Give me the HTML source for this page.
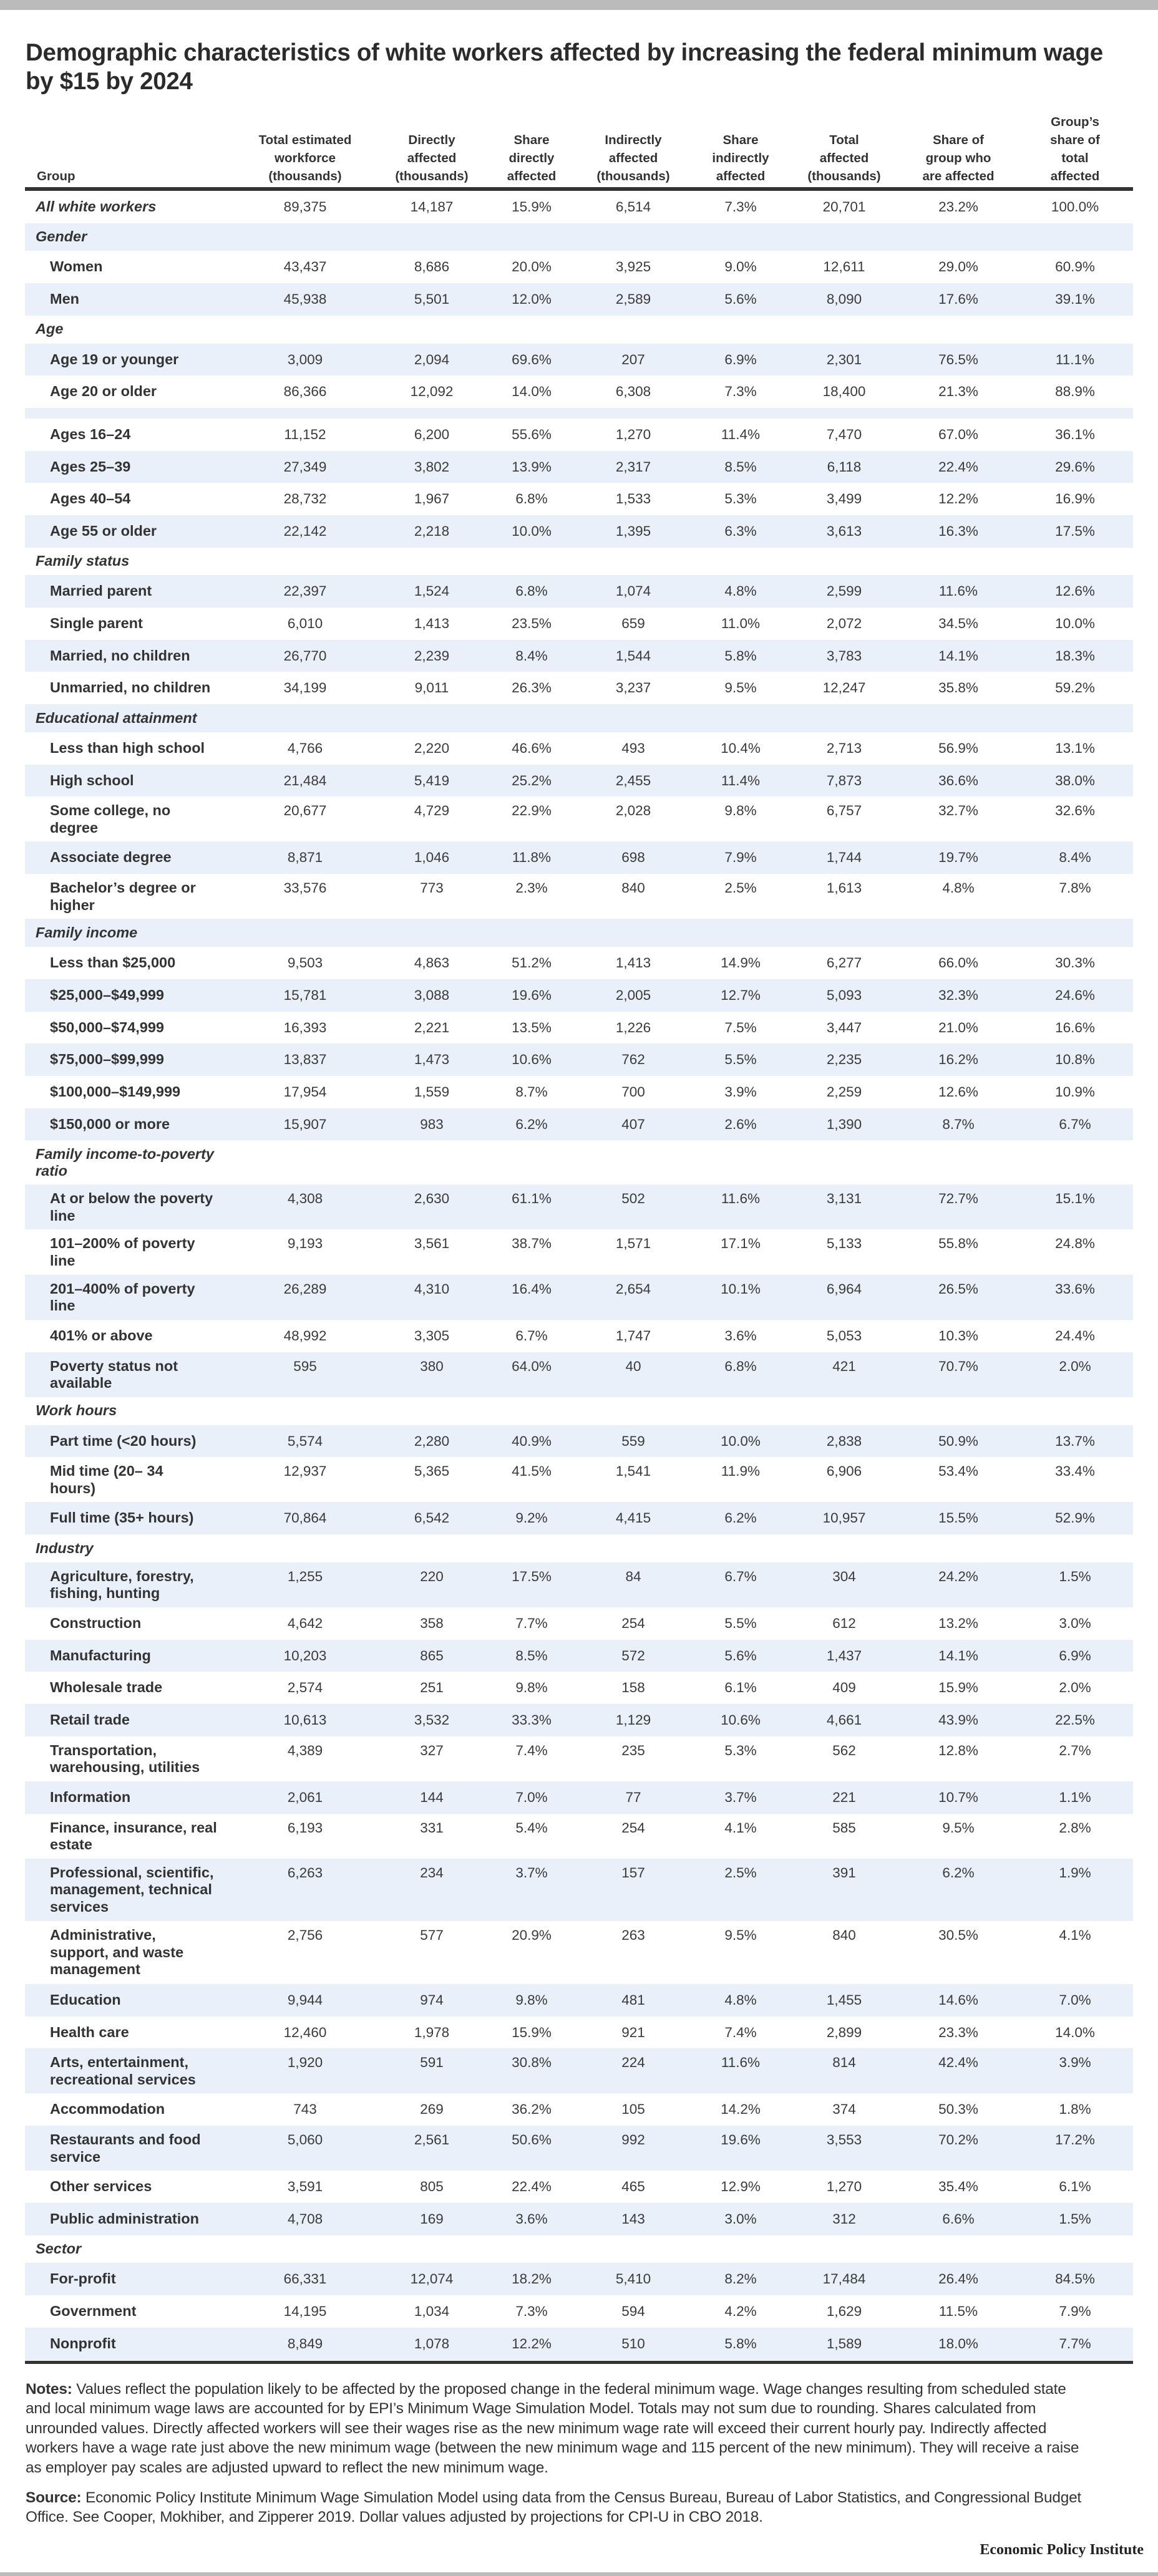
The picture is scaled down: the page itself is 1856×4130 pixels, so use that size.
<!DOCTYPE html>
<html><head><meta charset="utf-8">
<style>
*{margin:0;padding:0;box-sizing:border-box}
body{width:1856px;height:4130px;background:#fff;position:relative;font-family:"Liberation Sans",sans-serif;color:#333;overflow:hidden}
.bar{position:absolute;left:0;width:1856px;background:#bbbbbb}
.title{position:absolute;left:41px;top:62px;font-size:38.5px;font-weight:bold;line-height:46px;color:#2b2b2b;white-space:nowrap;letter-spacing:-0.3px}
.hd{position:absolute;top:177px;height:120px;font-size:20.5px;font-weight:bold;line-height:29px;text-align:center;width:200px;display:flex;flex-direction:column;justify-content:flex-end;color:#333}
.rule{position:absolute;left:40px;width:1776px;background:#333}
#t{position:absolute;left:40px;top:306px;width:1776px}
.r{position:relative;width:1776px;font-size:23.5px;line-height:27.5px}
.r:nth-child(even){background:#e9f0f9}
.l{position:absolute;left:40px;top:12px;font-weight:bold;white-space:nowrap;color:#333}
.r.m .l,.r.m .c{top:9px}
.k{position:absolute;left:17px;top:8.5px;font-weight:bold;font-style:italic;white-space:nowrap}
.a{position:absolute;left:17px;top:12px;font-style:italic;font-weight:bold;white-space:nowrap}
.c{position:absolute;top:12px;width:200px;text-align:center;white-space:nowrap;color:#3a3a3a;font-size:22.5px}
.c1{left:349px}.c2{left:552px}.c3{left:712px}.c4{left:875px}.c5{left:1047px}.c6{left:1213px}.c7{left:1396px}.c8{left:1583px}
.s{height:51.7px}.d{height:72.2px}.tr{height:100.5px}.g{height:44.8px}.g2{height:71px}.sp{height:16.8px}
.notes{position:absolute;left:41px;top:3815px;font-size:24.4px;line-height:31.4px;white-space:nowrap;color:#333;letter-spacing:-0.2px}
.src{top:3989px}
.epi{position:absolute;right:23px;top:4075px;font-family:"Liberation Serif",serif;font-weight:bold;font-size:24px;color:#222;white-space:nowrap}
</style></head><body>
<div class="bar" style="top:0;height:16px"></div>
<div class="title">Demographic characteristics of white workers affected by increasing the federal minimum wage<br>by $15 by 2024</div>

<div class="hd" style="left:40px;width:300px;text-align:left;padding-left:19px">Group</div>
<div class="hd" style="left:389px">Total estimated<br>workforce<br>(thousands)</div>
<div class="hd" style="left:592px">Directly<br>affected<br>(thousands)</div>
<div class="hd" style="left:752px">Share<br>directly<br>affected</div>
<div class="hd" style="left:915px">Indirectly<br>affected<br>(thousands)</div>
<div class="hd" style="left:1087px">Share<br>indirectly<br>affected</div>
<div class="hd" style="left:1253px">Total<br>affected<br>(thousands)</div>
<div class="hd" style="left:1436px">Share of<br>group who<br>are affected</div>
<div class="hd" style="left:1623px">Group’s<br>share of<br>total<br>affected</div>
<div class="rule" style="top:300px;height:6px"></div>

<div id="t">
<div class="r s"><div class="a">All white workers</div><div class="c c1">89,375</div><div class="c c2">14,187</div><div class="c c3">15.9%</div><div class="c c4">6,514</div><div class="c c5">7.3%</div><div class="c c6">20,701</div><div class="c c7">23.2%</div><div class="c c8">100.0%</div></div>
<div class="r g"><div class="k">Gender</div></div>
<div class="r s"><div class="l">Women</div><div class="c c1">43,437</div><div class="c c2">8,686</div><div class="c c3">20.0%</div><div class="c c4">3,925</div><div class="c c5">9.0%</div><div class="c c6">12,611</div><div class="c c7">29.0%</div><div class="c c8">60.9%</div></div>
<div class="r s"><div class="l">Men</div><div class="c c1">45,938</div><div class="c c2">5,501</div><div class="c c3">12.0%</div><div class="c c4">2,589</div><div class="c c5">5.6%</div><div class="c c6">8,090</div><div class="c c7">17.6%</div><div class="c c8">39.1%</div></div>
<div class="r g"><div class="k">Age</div></div>
<div class="r s"><div class="l">Age 19 or younger</div><div class="c c1">3,009</div><div class="c c2">2,094</div><div class="c c3">69.6%</div><div class="c c4">207</div><div class="c c5">6.9%</div><div class="c c6">2,301</div><div class="c c7">76.5%</div><div class="c c8">11.1%</div></div>
<div class="r s"><div class="l">Age 20 or older</div><div class="c c1">86,366</div><div class="c c2">12,092</div><div class="c c3">14.0%</div><div class="c c4">6,308</div><div class="c c5">7.3%</div><div class="c c6">18,400</div><div class="c c7">21.3%</div><div class="c c8">88.9%</div></div>
<div class="r sp"></div>
<div class="r s"><div class="l">Ages 16–24</div><div class="c c1">11,152</div><div class="c c2">6,200</div><div class="c c3">55.6%</div><div class="c c4">1,270</div><div class="c c5">11.4%</div><div class="c c6">7,470</div><div class="c c7">67.0%</div><div class="c c8">36.1%</div></div>
<div class="r s"><div class="l">Ages 25–39</div><div class="c c1">27,349</div><div class="c c2">3,802</div><div class="c c3">13.9%</div><div class="c c4">2,317</div><div class="c c5">8.5%</div><div class="c c6">6,118</div><div class="c c7">22.4%</div><div class="c c8">29.6%</div></div>
<div class="r s"><div class="l">Ages 40–54</div><div class="c c1">28,732</div><div class="c c2">1,967</div><div class="c c3">6.8%</div><div class="c c4">1,533</div><div class="c c5">5.3%</div><div class="c c6">3,499</div><div class="c c7">12.2%</div><div class="c c8">16.9%</div></div>
<div class="r s"><div class="l">Age 55 or older</div><div class="c c1">22,142</div><div class="c c2">2,218</div><div class="c c3">10.0%</div><div class="c c4">1,395</div><div class="c c5">6.3%</div><div class="c c6">3,613</div><div class="c c7">16.3%</div><div class="c c8">17.5%</div></div>
<div class="r g"><div class="k">Family status</div></div>
<div class="r s"><div class="l">Married parent</div><div class="c c1">22,397</div><div class="c c2">1,524</div><div class="c c3">6.8%</div><div class="c c4">1,074</div><div class="c c5">4.8%</div><div class="c c6">2,599</div><div class="c c7">11.6%</div><div class="c c8">12.6%</div></div>
<div class="r s"><div class="l">Single parent</div><div class="c c1">6,010</div><div class="c c2">1,413</div><div class="c c3">23.5%</div><div class="c c4">659</div><div class="c c5">11.0%</div><div class="c c6">2,072</div><div class="c c7">34.5%</div><div class="c c8">10.0%</div></div>
<div class="r s"><div class="l">Married, no children</div><div class="c c1">26,770</div><div class="c c2">2,239</div><div class="c c3">8.4%</div><div class="c c4">1,544</div><div class="c c5">5.8%</div><div class="c c6">3,783</div><div class="c c7">14.1%</div><div class="c c8">18.3%</div></div>
<div class="r s"><div class="l">Unmarried, no children</div><div class="c c1">34,199</div><div class="c c2">9,011</div><div class="c c3">26.3%</div><div class="c c4">3,237</div><div class="c c5">9.5%</div><div class="c c6">12,247</div><div class="c c7">35.8%</div><div class="c c8">59.2%</div></div>
<div class="r g"><div class="k">Educational attainment</div></div>
<div class="r s"><div class="l">Less than high school</div><div class="c c1">4,766</div><div class="c c2">2,220</div><div class="c c3">46.6%</div><div class="c c4">493</div><div class="c c5">10.4%</div><div class="c c6">2,713</div><div class="c c7">56.9%</div><div class="c c8">13.1%</div></div>
<div class="r s"><div class="l">High school</div><div class="c c1">21,484</div><div class="c c2">5,419</div><div class="c c3">25.2%</div><div class="c c4">2,455</div><div class="c c5">11.4%</div><div class="c c6">7,873</div><div class="c c7">36.6%</div><div class="c c8">38.0%</div></div>
<div class="r d m"><div class="l">Some college, no<br>degree</div><div class="c c1">20,677</div><div class="c c2">4,729</div><div class="c c3">22.9%</div><div class="c c4">2,028</div><div class="c c5">9.8%</div><div class="c c6">6,757</div><div class="c c7">32.7%</div><div class="c c8">32.6%</div></div>
<div class="r s"><div class="l">Associate degree</div><div class="c c1">8,871</div><div class="c c2">1,046</div><div class="c c3">11.8%</div><div class="c c4">698</div><div class="c c5">7.9%</div><div class="c c6">1,744</div><div class="c c7">19.7%</div><div class="c c8">8.4%</div></div>
<div class="r d m"><div class="l">Bachelor’s degree or<br>higher</div><div class="c c1">33,576</div><div class="c c2">773</div><div class="c c3">2.3%</div><div class="c c4">840</div><div class="c c5">2.5%</div><div class="c c6">1,613</div><div class="c c7">4.8%</div><div class="c c8">7.8%</div></div>
<div class="r g"><div class="k">Family income</div></div>
<div class="r s"><div class="l">Less than $25,000</div><div class="c c1">9,503</div><div class="c c2">4,863</div><div class="c c3">51.2%</div><div class="c c4">1,413</div><div class="c c5">14.9%</div><div class="c c6">6,277</div><div class="c c7">66.0%</div><div class="c c8">30.3%</div></div>
<div class="r s"><div class="l">$25,000–$49,999</div><div class="c c1">15,781</div><div class="c c2">3,088</div><div class="c c3">19.6%</div><div class="c c4">2,005</div><div class="c c5">12.7%</div><div class="c c6">5,093</div><div class="c c7">32.3%</div><div class="c c8">24.6%</div></div>
<div class="r s"><div class="l">$50,000–$74,999</div><div class="c c1">16,393</div><div class="c c2">2,221</div><div class="c c3">13.5%</div><div class="c c4">1,226</div><div class="c c5">7.5%</div><div class="c c6">3,447</div><div class="c c7">21.0%</div><div class="c c8">16.6%</div></div>
<div class="r s"><div class="l">$75,000–$99,999</div><div class="c c1">13,837</div><div class="c c2">1,473</div><div class="c c3">10.6%</div><div class="c c4">762</div><div class="c c5">5.5%</div><div class="c c6">2,235</div><div class="c c7">16.2%</div><div class="c c8">10.8%</div></div>
<div class="r s"><div class="l">$100,000–$149,999</div><div class="c c1">17,954</div><div class="c c2">1,559</div><div class="c c3">8.7%</div><div class="c c4">700</div><div class="c c5">3.9%</div><div class="c c6">2,259</div><div class="c c7">12.6%</div><div class="c c8">10.9%</div></div>
<div class="r s"><div class="l">$150,000 or more</div><div class="c c1">15,907</div><div class="c c2">983</div><div class="c c3">6.2%</div><div class="c c4">407</div><div class="c c5">2.6%</div><div class="c c6">1,390</div><div class="c c7">8.7%</div><div class="c c8">6.7%</div></div>
<div class="r g2"><div class="k">Family income-to-poverty<br>ratio</div></div>
<div class="r d m"><div class="l">At or below the poverty<br>line</div><div class="c c1">4,308</div><div class="c c2">2,630</div><div class="c c3">61.1%</div><div class="c c4">502</div><div class="c c5">11.6%</div><div class="c c6">3,131</div><div class="c c7">72.7%</div><div class="c c8">15.1%</div></div>
<div class="r d m"><div class="l">101–200% of poverty<br>line</div><div class="c c1">9,193</div><div class="c c2">3,561</div><div class="c c3">38.7%</div><div class="c c4">1,571</div><div class="c c5">17.1%</div><div class="c c6">5,133</div><div class="c c7">55.8%</div><div class="c c8">24.8%</div></div>
<div class="r d m"><div class="l">201–400% of poverty<br>line</div><div class="c c1">26,289</div><div class="c c2">4,310</div><div class="c c3">16.4%</div><div class="c c4">2,654</div><div class="c c5">10.1%</div><div class="c c6">6,964</div><div class="c c7">26.5%</div><div class="c c8">33.6%</div></div>
<div class="r s"><div class="l">401% or above</div><div class="c c1">48,992</div><div class="c c2">3,305</div><div class="c c3">6.7%</div><div class="c c4">1,747</div><div class="c c5">3.6%</div><div class="c c6">5,053</div><div class="c c7">10.3%</div><div class="c c8">24.4%</div></div>
<div class="r d m"><div class="l">Poverty status not<br>available</div><div class="c c1">595</div><div class="c c2">380</div><div class="c c3">64.0%</div><div class="c c4">40</div><div class="c c5">6.8%</div><div class="c c6">421</div><div class="c c7">70.7%</div><div class="c c8">2.0%</div></div>
<div class="r g"><div class="k">Work hours</div></div>
<div class="r s"><div class="l">Part time (&lt;20 hours)</div><div class="c c1">5,574</div><div class="c c2">2,280</div><div class="c c3">40.9%</div><div class="c c4">559</div><div class="c c5">10.0%</div><div class="c c6">2,838</div><div class="c c7">50.9%</div><div class="c c8">13.7%</div></div>
<div class="r d m"><div class="l">Mid time (20– 34<br>hours)</div><div class="c c1">12,937</div><div class="c c2">5,365</div><div class="c c3">41.5%</div><div class="c c4">1,541</div><div class="c c5">11.9%</div><div class="c c6">6,906</div><div class="c c7">53.4%</div><div class="c c8">33.4%</div></div>
<div class="r s"><div class="l">Full time (35+ hours)</div><div class="c c1">70,864</div><div class="c c2">6,542</div><div class="c c3">9.2%</div><div class="c c4">4,415</div><div class="c c5">6.2%</div><div class="c c6">10,957</div><div class="c c7">15.5%</div><div class="c c8">52.9%</div></div>
<div class="r g"><div class="k">Industry</div></div>
<div class="r d m"><div class="l">Agriculture, forestry,<br>fishing, hunting</div><div class="c c1">1,255</div><div class="c c2">220</div><div class="c c3">17.5%</div><div class="c c4">84</div><div class="c c5">6.7%</div><div class="c c6">304</div><div class="c c7">24.2%</div><div class="c c8">1.5%</div></div>
<div class="r s"><div class="l">Construction</div><div class="c c1">4,642</div><div class="c c2">358</div><div class="c c3">7.7%</div><div class="c c4">254</div><div class="c c5">5.5%</div><div class="c c6">612</div><div class="c c7">13.2%</div><div class="c c8">3.0%</div></div>
<div class="r s"><div class="l">Manufacturing</div><div class="c c1">10,203</div><div class="c c2">865</div><div class="c c3">8.5%</div><div class="c c4">572</div><div class="c c5">5.6%</div><div class="c c6">1,437</div><div class="c c7">14.1%</div><div class="c c8">6.9%</div></div>
<div class="r s"><div class="l">Wholesale trade</div><div class="c c1">2,574</div><div class="c c2">251</div><div class="c c3">9.8%</div><div class="c c4">158</div><div class="c c5">6.1%</div><div class="c c6">409</div><div class="c c7">15.9%</div><div class="c c8">2.0%</div></div>
<div class="r s"><div class="l">Retail trade</div><div class="c c1">10,613</div><div class="c c2">3,532</div><div class="c c3">33.3%</div><div class="c c4">1,129</div><div class="c c5">10.6%</div><div class="c c6">4,661</div><div class="c c7">43.9%</div><div class="c c8">22.5%</div></div>
<div class="r d m"><div class="l">Transportation,<br>warehousing, utilities</div><div class="c c1">4,389</div><div class="c c2">327</div><div class="c c3">7.4%</div><div class="c c4">235</div><div class="c c5">5.3%</div><div class="c c6">562</div><div class="c c7">12.8%</div><div class="c c8">2.7%</div></div>
<div class="r s"><div class="l">Information</div><div class="c c1">2,061</div><div class="c c2">144</div><div class="c c3">7.0%</div><div class="c c4">77</div><div class="c c5">3.7%</div><div class="c c6">221</div><div class="c c7">10.7%</div><div class="c c8">1.1%</div></div>
<div class="r d m"><div class="l">Finance, insurance, real<br>estate</div><div class="c c1">6,193</div><div class="c c2">331</div><div class="c c3">5.4%</div><div class="c c4">254</div><div class="c c5">4.1%</div><div class="c c6">585</div><div class="c c7">9.5%</div><div class="c c8">2.8%</div></div>
<div class="r tr m"><div class="l">Professional, scientific,<br>management, technical<br>services</div><div class="c c1">6,263</div><div class="c c2">234</div><div class="c c3">3.7%</div><div class="c c4">157</div><div class="c c5">2.5%</div><div class="c c6">391</div><div class="c c7">6.2%</div><div class="c c8">1.9%</div></div>
<div class="r tr m"><div class="l">Administrative,<br>support, and waste<br>management</div><div class="c c1">2,756</div><div class="c c2">577</div><div class="c c3">20.9%</div><div class="c c4">263</div><div class="c c5">9.5%</div><div class="c c6">840</div><div class="c c7">30.5%</div><div class="c c8">4.1%</div></div>
<div class="r s"><div class="l">Education</div><div class="c c1">9,944</div><div class="c c2">974</div><div class="c c3">9.8%</div><div class="c c4">481</div><div class="c c5">4.8%</div><div class="c c6">1,455</div><div class="c c7">14.6%</div><div class="c c8">7.0%</div></div>
<div class="r s"><div class="l">Health care</div><div class="c c1">12,460</div><div class="c c2">1,978</div><div class="c c3">15.9%</div><div class="c c4">921</div><div class="c c5">7.4%</div><div class="c c6">2,899</div><div class="c c7">23.3%</div><div class="c c8">14.0%</div></div>
<div class="r d m"><div class="l">Arts, entertainment,<br>recreational services</div><div class="c c1">1,920</div><div class="c c2">591</div><div class="c c3">30.8%</div><div class="c c4">224</div><div class="c c5">11.6%</div><div class="c c6">814</div><div class="c c7">42.4%</div><div class="c c8">3.9%</div></div>
<div class="r s"><div class="l">Accommodation</div><div class="c c1">743</div><div class="c c2">269</div><div class="c c3">36.2%</div><div class="c c4">105</div><div class="c c5">14.2%</div><div class="c c6">374</div><div class="c c7">50.3%</div><div class="c c8">1.8%</div></div>
<div class="r d m"><div class="l">Restaurants and food<br>service</div><div class="c c1">5,060</div><div class="c c2">2,561</div><div class="c c3">50.6%</div><div class="c c4">992</div><div class="c c5">19.6%</div><div class="c c6">3,553</div><div class="c c7">70.2%</div><div class="c c8">17.2%</div></div>
<div class="r s"><div class="l">Other services</div><div class="c c1">3,591</div><div class="c c2">805</div><div class="c c3">22.4%</div><div class="c c4">465</div><div class="c c5">12.9%</div><div class="c c6">1,270</div><div class="c c7">35.4%</div><div class="c c8">6.1%</div></div>
<div class="r s"><div class="l">Public administration</div><div class="c c1">4,708</div><div class="c c2">169</div><div class="c c3">3.6%</div><div class="c c4">143</div><div class="c c5">3.0%</div><div class="c c6">312</div><div class="c c7">6.6%</div><div class="c c8">1.5%</div></div>
<div class="r g"><div class="k">Sector</div></div>
<div class="r s"><div class="l">For-profit</div><div class="c c1">66,331</div><div class="c c2">12,074</div><div class="c c3">18.2%</div><div class="c c4">5,410</div><div class="c c5">8.2%</div><div class="c c6">17,484</div><div class="c c7">26.4%</div><div class="c c8">84.5%</div></div>
<div class="r s"><div class="l">Government</div><div class="c c1">14,195</div><div class="c c2">1,034</div><div class="c c3">7.3%</div><div class="c c4">594</div><div class="c c5">4.2%</div><div class="c c6">1,629</div><div class="c c7">11.5%</div><div class="c c8">7.9%</div></div>
<div class="r s"><div class="l">Nonprofit</div><div class="c c1">8,849</div><div class="c c2">1,078</div><div class="c c3">12.2%</div><div class="c c4">510</div><div class="c c5">5.8%</div><div class="c c6">1,589</div><div class="c c7">18.0%</div><div class="c c8">7.7%</div></div>
</div>
<div class="rule" style="top:3785px;height:5px"></div>

<div class="notes"><b>Notes:</b> Values reflect the population likely to be affected by the proposed change in the federal minimum wage. Wage changes resulting from scheduled state<br>and local minimum wage laws are accounted for by EPI’s Minimum Wage Simulation Model. Totals may not sum due to rounding. Shares calculated from<br>unrounded values. Directly affected workers will see their wages rise as the new minimum wage rate will exceed their current hourly pay. Indirectly affected<br>workers have a wage rate just above the new minimum wage (between the new minimum wage and 115 percent of the new minimum). They will receive a raise<br>as employer pay scales are adjusted upward to reflect the new minimum wage.</div>
<div class="notes src"><b>Source:</b> Economic Policy Institute Minimum Wage Simulation Model using data from the Census Bureau, Bureau of Labor Statistics, and Congressional Budget<br>Office. See Cooper, Mokhiber, and Zipperer 2019. Dollar values adjusted by projections for CPI-U in CBO 2018.</div>
<div class="epi">Economic Policy Institute</div>
<div class="bar" style="top:4124px;height:6px"></div>
</body></html>
